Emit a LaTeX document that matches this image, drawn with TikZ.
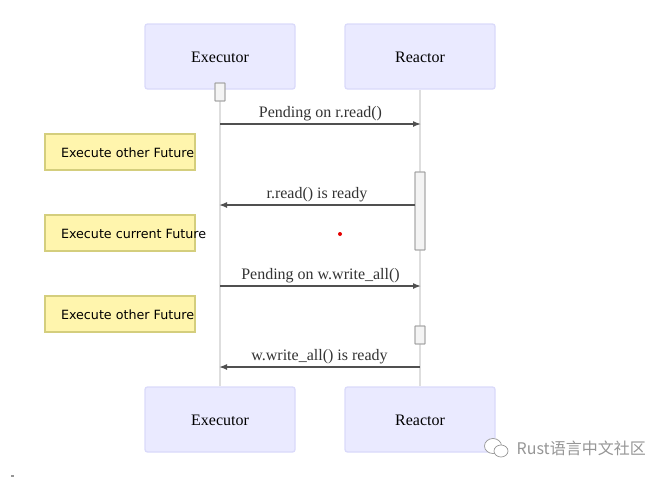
\documentclass[tikz,border=0pt]{standalone}
\usepackage{fontspec}
\setmainfont{Liberation Serif}
\newfontfamily\notefont{DejaVu Sans}
\newfontfamily\markfont{Noto Sans CJK SC}
\usetikzlibrary{positioning,arrows.meta,calc,fit}
\definecolor{actorfill}{RGB}{234,234,255}
\definecolor{actorline}{RGB}{218,218,250}
\definecolor{notefill}{RGB}{255,245,173}
\definecolor{noteline}{RGB}{212,206,125}
\definecolor{lifeline}{RGB}{222,222,222}
\definecolor{msgline}{RGB}{80,80,80}
\definecolor{barfill}{RGB}{244,244,244}
\definecolor{barline}{RGB}{170,170,170}
\definecolor{markgray}{RGB}{150,150,150}
\tikzset{
    actor/.style={
        rectangle,
        draw=actorline,
        fill=actorfill,
        line width=1.3pt,
        rounded corners=2.5pt,
        minimum width=150pt,
        minimum height=65pt,
        inner sep=0pt,
        text height=12.6pt,
        text depth=0pt,
        font=\fontsize{16}{18}\selectfont
    },
    note/.style={
        rectangle,
        draw=noteline,
        fill=notefill,
        line width=1.3pt,
        minimum width=150pt,
        minimum height=36pt,
        inner xsep=16pt,
        inner ysep=0pt,
        text height=12pt,
        text depth=0.6pt,
        font=\notefont\fontsize{12.7}{14}\selectfont
    },
    bar/.style={
        rectangle,
        draw=barline,
        fill=barfill,
        line width=1.3pt,
        rounded corners=0.6pt,
        minimum width=10pt,
        inner sep=0pt
    },
    life/.style={draw=lifeline,line width=1.4pt},
    msg/.style={-{Latex[length=8pt,width=6pt]},msgline,line width=1.5pt},
    msglabel/.style={above=0pt,inner sep=2pt,text=black!80,font=\fontsize{16}{18}\selectfont}
}
\begin{document}
\begin{tikzpicture}[x=1pt,y=-1pt]
\useasboundingbox (0,0) rectangle (666,477);

\node[actor] (exec) at (220,56.5) {Executor};
\node[actor] (reac) at (420,56.5) {Reactor};
\node[actor] (execb) at (220,419.5) {Executor};
\node[actor] (reacb) at (420,419.5) {Reactor};

\draw[life] (exec) -- (execb);
\draw[life] (reac) -- (reacb);

\node[bar,minimum height=18pt] (a1) at (220,92) {};
\node[bar,minimum height=78pt] (a2) at (420,211) {};
\node[bar,minimum height=18pt] (a3) at (420,335) {};

\node[note] (n1) at (120,152) {\makebox[118pt][l]{Execute other Future}};
\node[note] (n2) at (120,233) {\makebox[118pt][l]{Execute current Future}};
\node[note] (n3) at (120,314) {\makebox[118pt][l]{Execute other Future}};

\coordinate (e1) at (220,124);
\coordinate (r1) at (421,124);
\coordinate (e2) at (219,205);
\coordinate (r2) at (415,205);
\coordinate (e3) at (220,286);
\coordinate (r3) at (421,286);
\coordinate (e4) at (219,367);
\coordinate (r4) at (420,367);

\draw[msg] (e1) -- node[msglabel] {Pending on r.read()} (r1);
\draw[msg] (r2) -- node[msglabel] {r.read() is ready} (e2);
\draw[msg] (e3) -- node[msglabel] {Pending on w.write\_all()} (r3);
\draw[msg] (r4) -- node[msglabel] {w.write\_all() is ready} (e4);

% red speck
\fill[red!90!black] (340,234) circle (2pt);

% bottom right mark
\draw[markgray,fill=white,line width=0.7pt] (493,446) ellipse (8.5pt and 7.5pt);
\draw[markgray,fill=white,line width=0.7pt] (501,451) ellipse (7pt and 6pt);
\node[anchor=west,inner sep=0pt,text=markgray,font=\markfont\fontsize{16}{18}\selectfont] (mark) at (516.5,448) {Rust语言中文社区};
\fill[markgray] (11,475) rectangle (14,477);
\end{tikzpicture}
\end{document}
